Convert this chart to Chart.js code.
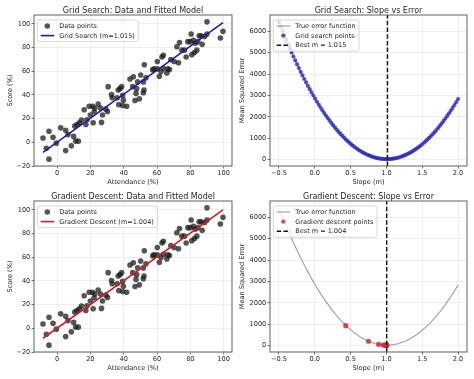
<!DOCTYPE html>
<html>
<head>
<meta charset="utf-8">
<script src="https://cdn.jsdelivr.net/npm/chart.js@4.4.1/dist/chart.umd.min.js"></script>
<style>
  html, body { margin: 0; padding: 0; background: #ffffff; }
  body { width: 474px; height: 379px; position: relative; overflow: hidden; }
  canvas { position: absolute; }
</style>
</head>
<body>
<canvas id="c1" width="237" height="190" style="left:0px;top:0px;width:237px;height:190px"></canvas>
<canvas id="c2" width="237" height="190" style="left:237px;top:0px;width:237px;height:190px"></canvas>
<canvas id="c3" width="237" height="190" style="left:0px;top:186px;width:237px;height:190px"></canvas>
<canvas id="c4" width="237" height="190" style="left:237px;top:186px;width:237px;height:190px"></canvas>
<script>
// ---------------- data ----------------
const attendance = [-8.4,-6.4,-4.8,-4.8,-2.4,-0.4,2.2,5.2,5.2,6.6,8.6,10.0,10.6,11.2,12.8,12.0,13.4,14.7,16.3,17.3,18.0,19.3,20.0,21.3,21.7,22.3,22.7,24.7,26.1,26.7,27.3,29.3,30.3,30.7,32.7,33.1,36.1,36.7,37.1,37.8,38.8,39.4,39.4,39.8,41.8,43.8,45.8,45.4,46.8,47.4,47.8,48.4,49.4,50.2,51.8,51.8,52.2,52.4,53.4,57.4,58.2,60.2,60.2,61.4,62.4,63.0,63.8,63.8,65.9,66.5,67.5,68.3,70.3,71.9,72.9,73.5,74.9,76.5,77.5,78.5,79.9,80.5,80.9,81.9,82.5,82.9,83.9,84.5,85.3,86.5,87.1,88.6,90.0,90.0,98.0,99.6];
const score = [3.6,-5.0,9.4,-14.2,4.2,-0.7,12.2,-7.0,10.2,6.5,-3.0,5.0,13.7,1.0,1.0,15.0,16.5,18.8,27.5,15.0,19.0,30.4,23.0,30.4,16.5,25.8,29.0,32.4,29.0,16.8,23.0,28.0,26.0,47.0,40.4,37.6,37.6,44.2,31.8,45.3,47.0,39.6,31.0,35.5,30.4,53.4,55.4,47.0,35.3,41.3,45.3,51.0,36.7,56.8,51.0,41.9,44.2,65.5,54.5,61.2,62.0,68.3,62.0,55.7,59.7,72.0,73.5,62.6,58.6,62.0,61.4,69.8,68.3,80.7,67.2,84.2,77.8,77.8,72.0,85.0,85.0,91.4,74.0,86.2,75.8,83.6,77.8,85.0,90.0,90.0,82.7,89.4,101.7,91.4,88.0,93.7];

// fitted lines (end points)
const fitLineX = [-8.4, 99.6];
const gridFitY = [-8.5, 101.1];
const gdFitY = [-8.4, 100.0];
const gridBestM = 1.015;
const gdBestM = 1.004;

// grid search slopes and their mean squared errors
const gridM = [-0.5,-0.4747,-0.4495,-0.4242,-0.399,-0.3737,-0.3485,-0.3232,-0.298,-0.2727,-0.2475,-0.2222,-0.197,-0.1717,-0.1465,-0.1212,-0.096,-0.0707,-0.0455,-0.0202,0.0051,0.0303,0.0556,0.0808,0.1061,0.1313,0.1566,0.1818,0.2071,0.2323,0.2576,0.2828,0.3081,0.3333,0.3586,0.3838,0.4091,0.4343,0.4596,0.4848,0.5101,0.5354,0.5606,0.5859,0.6111,0.6364,0.6616,0.6869,0.7121,0.7374,0.7626,0.7879,0.8131,0.8384,0.8636,0.8889,0.9141,0.9394,0.9646,0.9899,1.0152,1.0404,1.0657,1.0909,1.1162,1.1414,1.1667,1.1919,1.2172,1.2424,1.2677,1.2929,1.3182,1.3434,1.3687,1.3939,1.4192,1.4444,1.4697,1.4949,1.5202,1.5455,1.5707,1.596,1.6212,1.6465,1.6717,1.697,1.7222,1.7475,1.7727,1.798,1.8232,1.8485,1.8737,1.899,1.9242,1.9495,1.9747,2.0];
const gridMSE = [6426,6213,6004,5798,5596,5397,5202,5010,4822,4638,4458,4280,4107,3937,3771,3608,3449,3294,3142,2994,2849,2708,2571,2437,2307,2180,2057,1938,1822,1710,1602,1497,1396,1298,1204,1113,1027,944,864,788,715,646,581,520,462,407,357,310,266,226,190,157,128,103,81,62,48,37,29,26,25,29,36,46,61,78,100,125,154,186,222,261,304,351,401,455,513,574,639,707,779,855,934,1017,1103,1193,1287,1384,1485,1589,1697,1809,1924,2043,2166,2292,2421,2555,2692,2832];

// gradient descent iterates
const gdM = [0.433, 0.750, 0.890, 0.952, 0.980, 0.992, 0.998, 1.001, 1.003, 1.004];
const gdMSE = [935, 208, 62, 33, 27, 25, 25, 25, 25, 25];

// axis ranges and ticks
const attendMin = -13.8, attendMax = 105.0;
const scoreMin = -20, scoreMax = 107.5;
const slopeMin = -0.625, slopeMax = 2.125;
const mseMin = -295, mseMax = 6761;
const attendTicks = [0, 20, 40, 60, 80, 100];
const attendTickLabels = ['0', '20', '40', '60', '80', '100'];
const scoreTicks = [-20, 0, 20, 40, 60, 80, 100];
const scoreTickLabels = ['\u221220', '0', '20', '40', '60', '80', '100'];
const slopeTicks = [-0.5, 0, 0.5, 1.0, 1.5, 2.0];
const slopeTickLabels = ['\u22120.5', '0.0', '0.5', '1.0', '1.5', '2.0'];
const mseTicks = [0, 1000, 2000, 3000, 4000, 5000, 6000];
const mseTickLabels = ['0', '1000', '2000', '3000', '4000', '5000', '6000'];

// ---------------- styling helpers ----------------
const FONT = '"DejaVu Sans", "Liberation Sans", sans-serif';
const TEXT = '#262626';
const FRAME = '#505050';

function pts(xs, ys) { return xs.map((x, i) => ({ x: x, y: ys[i] })); }

function axis(dir, ticks, labels, min, max, title, size, titlePad) {
  const a = {
    type: 'linear', min: min, max: max,
    afterBuildTicks: s => { s.ticks = ticks.map(v => ({ value: v })); },
    ticks: {
      autoSkip: false, maxRotation: 0, minRotation: 0,
      padding: 1.2, color: TEXT,
      font: { family: FONT, size: 6.6 },
      callback: v => labels[ticks.indexOf(v)]
    },
    grid: { color: '#e8e8e8', lineWidth: 0.8, tickLength: 2.5, tickColor: FRAME, tickWidth: 0.8 },
    border: { display: false },
    title: { display: true, text: title, color: TEXT, font: { family: FONT, size: 6.6 }, padding: titlePad }
  };
  if (dir === 'x') a.afterFit = s => { s.height = size; };
  else a.afterFit = s => { s.width = size; };
  return a;
}

const framePlugin = {
  id: 'frame',
  afterDatasetsDraw(chart) {
    const ca = chart.chartArea, ctx = chart.ctx;
    ctx.save();
    ctx.strokeStyle = FRAME;
    ctx.lineWidth = 0.9;
    ctx.strokeRect(ca.left, ca.top, ca.right - ca.left, ca.bottom - ca.top);
    ctx.restore();
  }
};

const legendPlugin = {
  id: 'boxLegend',
  afterDraw(chart) {
    const ca = chart.chartArea, ctx = chart.ctx;
    const items = chart.data.datasets.filter(d => d.legendKind);
    ctx.save();
    ctx.font = '6.5px ' + FONT;
    const textW = Math.max(...items.map(d => ctx.measureText(d.label).width));
    const x0 = ca.left + 3.3, y0 = ca.top + 5;
    const rowH = 9.6, first = 6;
    const w = 22 + textW + 3.5, h = first * 2 + rowH * (items.length - 1);
    ctx.beginPath();
    if (ctx.roundRect) ctx.roundRect(x0, y0, w, h, 2); else ctx.rect(x0, y0, w, h);
    ctx.fillStyle = 'rgba(255,255,255,0.8)';
    ctx.fill();
    ctx.strokeStyle = 'rgba(200,200,200,0.9)';
    ctx.lineWidth = 0.8;
    ctx.stroke();
    items.forEach((d, i) => {
      const cy = y0 + first + i * rowH;
      if (d.legendKind === 'point') {
        ctx.beginPath();
        ctx.arc(x0 + 10, cy, d.legendRadius || d.pointRadius, 0, Math.PI * 2);
        ctx.fillStyle = d.backgroundColor;
        ctx.fill();
      } else {
        ctx.beginPath();
        ctx.setLineDash(d.borderDash || []);
        ctx.moveTo(x0 + 3.4, cy);
        ctx.lineTo(x0 + 17, cy);
        ctx.strokeStyle = d.borderColor;
        ctx.lineWidth = d.borderWidth;
        ctx.stroke();
        ctx.setLineDash([]);
      }
      ctx.fillStyle = TEXT;
      ctx.textBaseline = 'middle';
      ctx.textAlign = 'left';
      ctx.fillText(d.label, x0 + 22, cy + 0.3);
    });
    ctx.restore();
  }
};

function baseOptions(title, xScale, yScale, padRight) {
  return {
    responsive: false, animation: false, devicePixelRatio: 1,
    layout: { padding: { left: 0, right: padRight, top: 0, bottom: 0 } },
    plugins: {
      legend: { display: false },
      tooltip: { enabled: false },
      title: { display: true, text: title, color: TEXT, fullSize: false,
               font: { family: FONT, size: 8, weight: 'normal', lineHeight: 1 },
               padding: { top: 7, bottom: 0 } }
    },
    scales: { x: xScale, y: yScale }
  };
}

function dataChart(id, title, lineLabel, lineY, lineColor) {
  new Chart(document.getElementById(id), {
    type: 'scatter',
    data: {
      datasets: [
        { label: 'Data points', legendKind: 'point', data: pts(attendance, score),
          backgroundColor: 'rgba(25,25,25,0.74)', borderWidth: 0, pointRadius: 2.8, order: 2 },
        { label: lineLabel, legendKind: 'line', data: pts(fitLineX, lineY), showLine: true,
          borderColor: lineColor, borderWidth: 1.6, pointRadius: 0, fill: false, order: 1 }
      ]
    },
    options: baseOptions(title,
      axis('x', attendTicks, attendTickLabels, attendMin, attendMax, 'Attendance (%)', 24, { top: 0, bottom: 3.7 }),
      axis('y', scoreTicks, scoreTickLabels, scoreMin, scoreMax, 'Score (%)', 34, { top: 6, bottom: 0 }), 5),
    plugins: [framePlugin, legendPlugin]
  });
}

function errorChart(id, title, pointLabel, ptsM, ptsE, ptColor, ptRadius, bestM) {
  new Chart(document.getElementById(id), {
    type: 'scatter',
    data: {
      datasets: [
        { label: 'True error function', legendKind: 'line', data: pts(gridM, gridMSE), showLine: true,
          borderColor: 'rgba(128,128,128,0.72)', borderWidth: 1.2, pointRadius: 0, fill: false, order: 3 },
        { label: pointLabel, legendKind: 'point', data: pts(ptsM, ptsE),
          backgroundColor: ptColor, borderWidth: 0, pointRadius: ptRadius, legendRadius: 2.2, order: 2 },
        { label: 'Best m = ' + bestM.toFixed(3), legendKind: 'line',
          data: pts([bestM, bestM], [mseMin, mseMax]), showLine: true,
          borderColor: '#111111', borderWidth: 1.4, borderDash: [4.5, 2.2], pointRadius: 0, fill: false, order: 1 }
      ]
    },
    options: baseOptions(title,
      axis('x', slopeTicks, slopeTickLabels, slopeMin, slopeMax, 'Slope (m)', 24, { top: 0, bottom: 3.7 }),
      axis('y', mseTicks, mseTickLabels, mseMin, mseMax, 'Mean Squared Error', 33, { top: 1.3, bottom: 0 }), 7),
    plugins: [framePlugin, legendPlugin]
  });
}

dataChart('c1', 'Grid Search: Data and Fitted Model', 'Grid Search (m=1.015)', gridFitY, '#1c1ca8');
errorChart('c2', 'Grid Search: Slope vs Error', 'Grid search points', gridM, gridMSE, 'rgba(40,40,190,0.78)', 2.1, gridBestM);
dataChart('c3', 'Gradient Descent: Data and Fitted Model', 'Gradient Descent (m=1.004)', gdFitY, '#cc1f26');
errorChart('c4', 'Gradient Descent: Slope vs Error', 'Gradient descent points', gdM, gdMSE, 'rgba(205,40,50,0.82)', 2.6, gdBestM);
</script>
</body>
</html>
